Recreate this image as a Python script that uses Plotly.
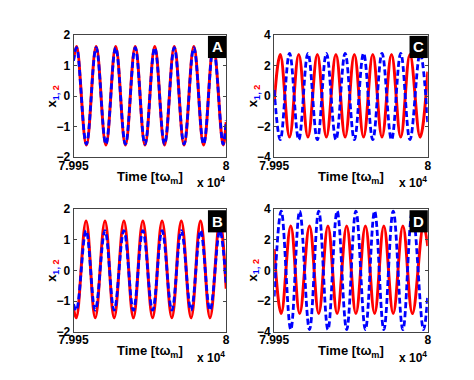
import plotly.graph_objects as go

T0 = 79950  # start time
# ---------------- Panel A ----------------
A_red_t = [0, 1.0, 4.2, 7.4, 10.6, 13.8, 17.0, 20.2, 23.4, 26.6, 29.8, 33.0, 36.2, 39.4, 42.6, 45.8, 49.0, 50]
A_red_v = [1.2, 1.62, -1.60, 1.62, -1.60, 1.62, -1.60, 1.62, -1.60, 1.62, -1.60, 1.62, -1.60, 1.62, -1.60, 1.62, -1.60, -0.85]
A_blue_t = A_red_t
A_blue_v = [1.15, 1.58, -1.57, 1.58, -1.57, 1.58, -1.57, 1.58, -1.57, 1.58, -1.57, 1.58, -1.57, 1.58, -1.57, 1.58, -1.57, -0.8]
# ---------------- Panel B ----------------
B_red_t = [0, 0.9, 4.1, 7.1, 10.3, 13.3, 16.5, 19.6, 22.7, 25.9, 29.0, 32.2, 35.3, 38.5, 41.6, 44.7, 47.9, 50]
B_red_v = [-1.25, -1.55, 1.62, -1.55, 1.62, -1.55, 1.62, -1.55, 1.62, -1.55, 1.62, -1.55, 1.62, -1.55, 1.62, -1.55, 1.62, -0.6]
B_blue_t = B_red_t
B_blue_v = [-1.1, -1.30, 1.30, -1.30, 1.30, -1.30, 1.30, -1.30, 1.30, -1.30, 1.30, -1.30, 1.30, -1.30, 1.30, -1.30, 1.30, -0.5]
# ---------------- Panel C ----------------
C_red_t = [0, 2.0, 5.0, 8.0, 11.0, 14.05, 17.0, 20.1, 23.1, 26.1, 29.1, 32.1, 35.1, 38.2, 41.2, 44.2, 47.5, 50]
C_red_v = [-0.4, 2.72, -2.68, 2.72, -2.68, 2.72, -2.68, 2.72, -2.68, 2.72, -2.68, 2.72, -2.68, 2.72, -2.68, 2.72, -2.68, 1.6]
C_blue_t = C_red_t
C_blue_v = [0.4, -2.85, 2.80, -2.85, 2.80, -2.85, 2.80, -2.85, 2.80, -2.85, 2.80, -2.85, 2.80, -2.85, 2.80, -2.85, 2.80, -1.8]
# ---------------- Panel D ----------------
D_red_t = [0, 2.3, 5.4, 8.3, 11.5, 14.5, 17.5, 20.5, 23.6, 26.6, 29.7, 32.7, 35.7, 38.75, 41.9, 45.0, 48.6, 50]
D_red_v = [1.4, -2.82, 2.9, -2.82, 2.9, -2.82, 2.9, -2.82, 2.9, -2.82, 2.9, -2.82, 2.9, -2.82, 2.9, -2.82, 2.9, 1.6]
D_blue_t = D_red_t
D_blue_v = [-1.7, 3.88, -3.87, 3.88, -3.87, 3.88, -3.87, 3.88, -3.87, 3.88, -3.87, 3.88, -3.87, 3.88, -3.87, 3.88, -3.87, -1.6]

x_ticks = [79950, 80000]
x_ticktext = ["7.995", "8"]
y_ticks_AB = [-2, -1, 0, 1, 2]
y_ticks_CD = [-4, -2, 0, 2, 4]
panel_labels = ["A", "C", "B", "D"]

W, H = 474, 380
RED = "#ff0000"
BLUE = "#0000ff"
FONT = "Liberation Sans, Arial, sans-serif"

# pixel boxes of plot areas (left, right, top, bottom)
boxes = [(61, 220, 29, 156), (270, 430, 29, 156), (61, 220, 210, 337), (270, 430, 210, 337)]

panels = [
    (A_red_t, A_red_v, A_blue_t, A_blue_v, y_ticks_AB),
    (C_red_t, C_red_v, C_blue_t, C_blue_v, y_ticks_CD),
    (B_red_t, B_red_v, B_blue_t, B_blue_v, y_ticks_AB),
    (D_red_t, D_red_v, D_blue_t, D_blue_v, y_ticks_CD),
]

fig = go.Figure()
layout = dict(width=W, height=H, margin=dict(l=0, r=0, t=0, b=0),
              paper_bgcolor="white", plot_bgcolor="white", showlegend=False,
              annotations=[], shapes=[])

for i, (rt, rv, bt, bv, yt) in enumerate(panels):
    n = "" if i == 0 else str(i + 1)
    xa, ya = "x" + n, "y" + n
    l, r, t, b = boxes[i]
    fig.add_trace(go.Scatter(x=[T0 + v for v in rt], y=rv, mode="lines",
                             line=dict(color=RED, width=3, shape="spline", smoothing=1.1),
                             xaxis=xa, yaxis=ya, hoverinfo="skip"))
    fig.add_trace(go.Scatter(x=[T0 + v for v in bt], y=bv, mode="lines",
                             line=dict(color=BLUE, width=2.8, dash="6px,3px", shape="spline", smoothing=1.1),
                             xaxis=xa, yaxis=ya, hoverinfo="skip"))
    axis_common = dict(showline=True, linecolor="#444", linewidth=1, mirror="ticks",
                       ticks="inside", ticklen=3, tickcolor="#444", showgrid=False,
                       zeroline=False,
                       tickfont=dict(family=FONT, size=12, color="black", weight="bold"))
    layout["xaxis" + n] = dict(axis_common, domain=[l / W, r / W], range=[x_ticks[0], x_ticks[1]],
                               tickvals=x_ticks, ticktext=x_ticktext, anchor=ya,
                               ticklabelstandoff=-3)
    layout["yaxis" + n] = dict(axis_common, domain=[1 - b / H, 1 - t / H], range=[yt[0], yt[-1]],
                               tickvals=yt, anchor=xa)
    # label box
    layout["shapes"].append(dict(type="rect", xref=xa + " domain", yref=ya + " domain",
                                 x0=1 - 19 / (r - l), x1=1, y0=1 - 24 / (b - t), y1=1 - 1 / (b - t),
                                 fillcolor="black", line=dict(width=0), layer="above"))
    layout["annotations"].append(dict(text=panel_labels[i], xref=xa + " domain", yref=ya + " domain",
                                      x=1 - 9.5 / (r - l), y=1 - 12.5 / (b - t), showarrow=False,
                                      xanchor="center", yanchor="middle",
                                      font=dict(family=FONT, size=15, color="white", weight="bold")))
    # x title
    layout["annotations"].append(dict(text="Time [tω<sub>m</sub>]", xref="paper", yref="paper",
                                      x=(l + r) / 2 / W, y=1 - (b + 21) / H, showarrow=False,
                                      xanchor="center", yanchor="middle",
                                      font=dict(family=FONT, size=13, color="black", weight="bold")))
    # x 10^4
    layout["annotations"].append(dict(text="x 10<sup>4</sup>", xref="paper", yref="paper",
                                      x=(r + 1) / W, y=1 - (b + 26) / H, showarrow=False,
                                      xanchor="right", yanchor="middle",
                                      font=dict(family=FONT, size=12, color="black", weight="bold")))
    # y title
    layout["annotations"].append(dict(text="x<sub><span style='color:#0000ff'>1, </span><span style='color:#ff0000'>2</span></sub>",
                                      xref="paper", yref="paper", textangle=-90,
                                      x=(l - 22) / W, y=1 - (t + b) / 2 / H, showarrow=False,
                                      xanchor="center", yanchor="middle",
                                      font=dict(family=FONT, size=13, color="black", weight="bold")))

fig.update_layout(**layout)
fig.write_html("out.html", config={"displayModeBar": False},
               post_script="document.body.style.margin='0';")
